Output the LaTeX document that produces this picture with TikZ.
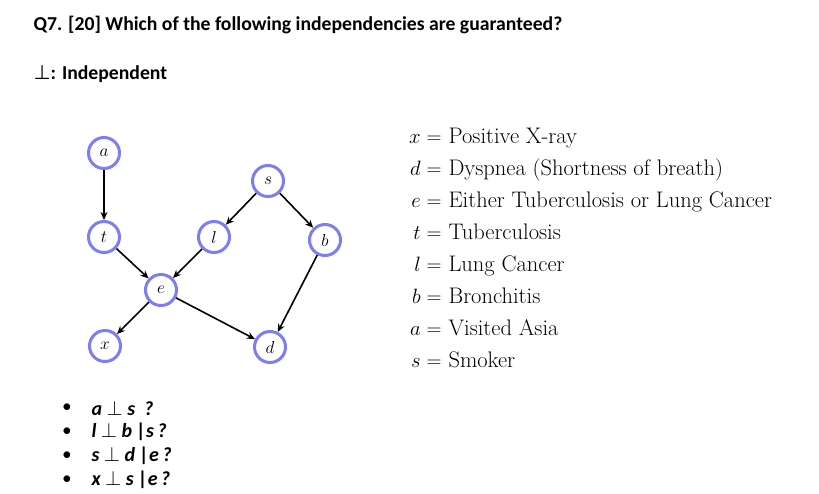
\documentclass[tikz,border=0pt]{standalone}
\usepackage{fontspec}
\newfontfamily\carlitofam{Carlito}
\newfontfamily\djfam{DejaVu Sans}
\usetikzlibrary{arrows.meta}
\definecolor{nodeblue}{RGB}{125,125,245}
\tikzset{
  bn/.style={circle,draw=nodeblue,line width=3pt,fill=white,minimum size=31pt,inner sep=0pt,font=\fontsize{18}{20}\selectfont},
  edge/.style={-{Stealth[length=8pt,width=7pt]},line width=1.6pt},
  hdr/.style={anchor=west,font=\carlitofam\bfseries\fontsize{19.7}{22}\selectfont},
  leg/.style={anchor=base west,font=\fontsize{22.5}{24}\selectfont},
  itm/.style={anchor=west,font=\carlitofam\bfseries\itshape\fontsize{20}{22}\selectfont}
}
\begin{document}
\begin{tikzpicture}[x=1pt,y=-1pt]
\useasboundingbox (0,0) rectangle (819,493);
\node[hdr] (q) at (30,25) {Q7. [20] Which of the following independencies are guaranteed?};
\node[hdr] (ind) at (30,74) {{\djfam\upshape\mdseries ⊥}: Independent};
\node[bn] (a) at (104,153) {$a$};
\node[bn] (t) at (104,237) {$t$};
\node[bn] (l) at (214,237) {$l$};
\node[bn] (s) at (268,181) {$s$};
\node[bn] (b) at (325,240) {$b$};
\node[bn] (e) at (161,290) {$e$};
\node[bn] (x) at (105,346) {$x$};
\node[bn] (d) at (270,347) {$d$};
\draw[edge] (a) -- (t);
\draw[edge] (t) -- (e);
\draw[edge] (l) -- (e);
\draw[edge] (s) -- (l);
\draw[edge] (s) -- (b);
\draw[edge] (b) -- (d);
\draw[edge] (e) -- (x);
\draw[edge] (e) -- (d);
\foreach \i/\l/\r in {0/x/Positive X-ray,1/d/Dyspnea (Shortness of breath),2/e/Either Tuberculosis or Lung Cancer,3/t/Tuberculosis,4/l/Lung Cancer,5/b/Bronchitis,6/a/Visited Asia,7/s/Smoker}{
  \node[leg,anchor=base east] (k\i) at (445,143+32*\i) {$\l=$};
  \node[leg] (v\i) at (445,143+32*\i) {\r};
}
\foreach \i/\t in {0/{a {\upshape$\perp$} s \ ?},1/{l {\upshape$\perp$} b |s\,?},2/{s {\upshape$\perp$} d |e\,?},3/{x {\upshape$\perp$} s |e\,?}}{
  \node[font=\fontsize{16}{16}\selectfont] (bul\i) at (67,408+24*\i) {$\bullet$};
  \node[itm] (it\i) at (88,408+24*\i) {\t};
}
\end{tikzpicture}
\end{document}
